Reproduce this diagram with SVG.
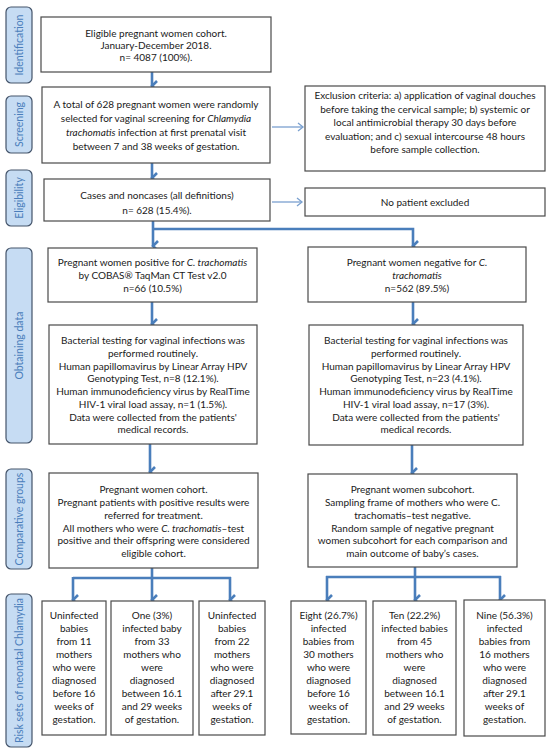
<svg xmlns="http://www.w3.org/2000/svg" width="550" height="754" viewBox="0 0 550 754">
<style>
text{font-family:Lato,"Liberation Sans",sans-serif;font-size:10px;fill:#1a1a1a;text-anchor:middle}
.box{fill:#fff;stroke:#4a4a4a;stroke-width:1.2}
.lab{fill:#c6dcf3;stroke:#44546a;stroke-width:1.2}
.lt{fill:#4a7ebb;font-size:10.5px}
.thick{fill:none;stroke:#4a7ebb;stroke-width:2.6}
.thin{fill:none;stroke:#7aa0cf;stroke-width:1.3}
</style>
<defs>
<marker id="ah" viewBox="0 0 12 10" refX="6" refY="8" markerWidth="12" markerHeight="10" markerUnits="userSpaceOnUse" orient="auto-start-reverse">
<path d="M1,3 L6,8 L11,3" fill="none" stroke="#4a7ebb" stroke-width="2.6"/>
</marker>
<marker id="at" viewBox="0 0 10 10" refX="8" refY="5" markerWidth="10" markerHeight="10" markerUnits="userSpaceOnUse" orient="auto">
<path d="M3,1 L8,5 L3,9" fill="none" stroke="#7aa0cf" stroke-width="1.3"/>
</marker>
</defs>

<g id="labels">
<g id="lab-identification"><rect class="lab" x="6" y="7" width="26" height="76" rx="5"/><text class="lt" transform="translate(23,45) rotate(-90)">Identification</text></g>
<g id="lab-screening"><rect class="lab" x="6" y="96" width="26" height="57" rx="5"/><text class="lt" transform="translate(23,124.5) rotate(-90)">Screening</text></g>
<g id="lab-eligibility"><rect class="lab" x="6" y="170" width="26" height="56" rx="5"/><text class="lt" transform="translate(23,198) rotate(-90)">Eligibility</text></g>
<g id="lab-obtaining"><rect class="lab" x="6" y="248" width="26" height="195" rx="5"/><text class="lt" transform="translate(23,345.5) rotate(-90)">Obtaining data</text></g>
<g id="lab-comparative"><rect class="lab" x="6" y="469" width="26" height="100" rx="5"/><text class="lt" transform="translate(23,519) rotate(-90)">Comparative groups</text></g>
<g id="lab-risk"><rect class="lab" x="6" y="594" width="26" height="153" rx="5"/><text class="lt" transform="translate(23,670.5) rotate(-90)">Risk sets of neonatal Chlamydia</text></g>
</g>

<g id="connectors">
<path class="thick" d="M152,72 V86" marker-end="url(#ah)"/>
<path class="thick" d="M152,163 V178" marker-end="url(#ah)"/>
<path class="thick" d="M153,221 V246" marker-end="url(#ah)"/>
<path class="thick" d="M153,229 H413 V246" marker-end="url(#ah)"/>
<path class="thick" d="M152,302 V324" marker-end="url(#ah)"/>
<path class="thick" d="M413,302 V324" marker-end="url(#ah)"/>
<path class="thick" d="M150,444 V472" marker-end="url(#ah)"/>
<path class="thick" d="M412,445 V473" marker-end="url(#ah)"/>
<path class="thick" d="M152,568 V578"/>
<path class="thick" d="M73,578 H231"/>
<path class="thick" d="M73,577 V600" marker-end="url(#ah)"/>
<path class="thick" d="M152,577 V600" marker-end="url(#ah)"/>
<path class="thick" d="M230,577 V600" marker-end="url(#ah)"/>
<path class="thick" d="M415,567 V577"/>
<path class="thick" d="M326,577 H501"/>
<path class="thick" d="M327,576 V600" marker-end="url(#ah)"/>
<path class="thick" d="M415,576 V600" marker-end="url(#ah)"/>
<path class="thick" d="M500,576 V600" marker-end="url(#ah)"/>
<path class="thin" d="M272,127 H303" marker-end="url(#at)"/>
<path class="thin" d="M272,202 H302" marker-end="url(#at)"/>
</g>

<g id="n-identification"><rect class="box" x="41" y="17" width="230" height="55"/>
<text x="156" y="37">Eligible pregnant women cohort.</text>
<text x="156" y="49">January-December 2018.</text>
<text x="156" y="61">n= 4087 (100%).</text></g>

<g id="n-screening"><rect class="box" x="42" y="87" width="228" height="76"/>
<text x="156" y="108">A total of 628 pregnant women were randomly</text>
<text x="156" y="122">selected for vaginal screening for <tspan font-style="italic">Chlamydia</tspan></text>
<text x="156" y="136"><tspan font-style="italic">trachomatis</tspan> infection at first prenatal visit</text>
<text x="156" y="150">between 7 and 38 weeks of gestation.</text></g>

<g id="n-exclusion"><rect class="box" x="305" y="86" width="240" height="85"/>
<text x="425" y="99">Exclusion criteria: a) application of vaginal douches</text>
<text x="425" y="112.5">before taking the cervical sample; b) systemic or</text>
<text x="425" y="126">local antimicrobial therapy 30 days before</text>
<text x="425" y="139.5">evaluation; and c) sexual intercourse 48 hours</text>
<text x="425" y="153">before sample collection.</text></g>

<g id="n-eligibility"><rect class="box" x="44" y="179" width="226" height="42"/>
<text x="157" y="199">Cases and noncases (all definitions)</text>
<text x="157" y="214">n= 628 (15.4%).</text></g>

<g id="n-noexcluded"><rect class="box" x="305" y="188" width="240" height="28"/>
<text x="425" y="206">No patient excluded</text></g>

<g id="n-positive"><rect class="box" x="48" y="248" width="209" height="54"/>
<text x="152.5" y="266">Pregnant women positive for <tspan font-style="italic">C. trachomatis</tspan></text>
<text x="152.5" y="279">by COBAS® TaqMan CT Test v2.0</text>
<text x="152.5" y="292">n=66 (10.5%)</text></g>

<g id="n-negative"><rect class="box" x="308" y="247" width="218" height="55"/>
<text x="417" y="266">Pregnant women negative for <tspan font-style="italic">C.</tspan></text>
<text x="417" y="279" font-style="italic">trachomatis</text>
<text x="417" y="292">n=562 (89.5%)</text></g>

<g id="n-data-pos"><rect class="box" x="49" y="325" width="208" height="119"/>
<text x="153" y="344">Bacterial testing for vaginal infections was</text>
<text x="153" y="356.7">performed routinely.</text>
<text x="153" y="369.5">Human papillomavirus by Linear Array HPV</text>
<text x="153" y="382.3">Genotyping Test, n=8 (12.1%).</text>
<text x="153" y="395">Human immunodeficiency virus by RealTime</text>
<text x="153" y="407.5">HIV-1 viral load assay, n=1 (1.5%).</text>
<text x="153" y="420.5">Data were collected from the patients'</text>
<text x="153" y="433.3">medical records.</text></g>

<g id="n-data-neg"><rect class="box" x="309" y="325" width="214" height="120"/>
<text x="416" y="344">Bacterial testing for vaginal infections was</text>
<text x="416" y="356.7">performed routinely.</text>
<text x="416" y="369.5">Human papillomavirus by Linear Array HPV</text>
<text x="416" y="382.3">Genotyping Test, n=23 (4.1%).</text>
<text x="416" y="395">Human immunodeficiency virus by RealTime</text>
<text x="416" y="407.5">HIV-1 viral load assay, n=17 (3%).</text>
<text x="416" y="420.5">Data were collected from the patients'</text>
<text x="416" y="433.3">medical records.</text></g>

<g id="n-cohort"><rect class="box" x="49" y="473" width="209" height="95"/>
<text x="153.5" y="493">Pregnant women cohort.</text>
<text x="153.5" y="506">Pregnant patients with positive results were</text>
<text x="153.5" y="518.5">referred for treatment.</text>
<text x="153.5" y="531.5">All mothers who were <tspan font-style="italic">C. trachomatis</tspan>–test</text>
<text x="153.5" y="544">positive and their offspring were considered</text>
<text x="153.5" y="556.7">eligible cohort.</text></g>

<g id="n-subcohort"><rect class="box" x="308" y="474" width="209" height="93"/>
<text x="412.5" y="493">Pregnant women subcohort.</text>
<text x="412.5" y="506">Sampling frame of mothers who were C.</text>
<text x="412.5" y="518.5">trachomatis–test negative.</text>
<text x="412.5" y="531.5">Random sample of negative pregnant</text>
<text x="412.5" y="544">women subcohort for each comparison and</text>
<text x="412.5" y="556.7">main outcome of baby’s cases.</text></g>

<g id="n-risk1"><rect class="box" x="42" y="601" width="64" height="134"/>
<text x="74" y="619">Uninfected</text><text x="74" y="632">babies</text><text x="74" y="645">from 11</text><text x="74" y="658">mothers</text><text x="74" y="671">who were</text><text x="74" y="684">diagnosed</text><text x="74" y="697">before 16</text><text x="74" y="710">weeks of</text><text x="74" y="723">gestation.</text></g>

<g id="n-risk2"><rect class="box" x="111" y="601" width="82" height="134"/>
<text x="152" y="619">One (3%)</text><text x="152" y="632">infected baby</text><text x="152" y="645">from 33</text><text x="152" y="658">mothers who</text><text x="152" y="671">were</text><text x="152" y="684">diagnosed</text><text x="152" y="697">between 16.1</text><text x="152" y="710">and 29 weeks</text><text x="152" y="723">of gestation.</text></g>

<g id="n-risk3"><rect class="box" x="199" y="601" width="66" height="134"/>
<text x="232" y="619">Uninfected</text><text x="232" y="632">babies</text><text x="232" y="645">from 22</text><text x="232" y="658">mothers</text><text x="232" y="671">who were</text><text x="232" y="684">diagnosed</text><text x="232" y="697">after 29.1</text><text x="232" y="710">weeks of</text><text x="232" y="723">gestation.</text></g>

<g id="n-risk4"><rect class="box" x="291" y="601" width="75" height="133"/>
<text x="328.5" y="619">Eight (26.7%)</text><text x="328.5" y="632">infected</text><text x="328.5" y="645">babies from</text><text x="328.5" y="658">30 mothers</text><text x="328.5" y="671">who were</text><text x="328.5" y="684">diagnosed</text><text x="328.5" y="697">before 16</text><text x="328.5" y="710">weeks of</text><text x="328.5" y="723">gestation.</text></g>

<g id="n-risk5"><rect class="box" x="373" y="601" width="83" height="134"/>
<text x="414.5" y="619">Ten (22.2%)</text><text x="414.5" y="632">infected babies</text><text x="414.5" y="645">from 45</text><text x="414.5" y="658">mothers who</text><text x="414.5" y="671">were</text><text x="414.5" y="684">diagnosed</text><text x="414.5" y="697">between 16.1</text><text x="414.5" y="710">and 29 weeks</text><text x="414.5" y="723">of gestation.</text></g>

<g id="n-risk6"><rect class="box" x="464" y="600" width="81" height="136"/>
<text x="504.5" y="619">Nine (56.3%)</text><text x="504.5" y="632">infected</text><text x="504.5" y="645">babies from</text><text x="504.5" y="658">16 mothers</text><text x="504.5" y="671">who were</text><text x="504.5" y="684">diagnosed</text><text x="504.5" y="697">after 29.1</text><text x="504.5" y="710">weeks of</text><text x="504.5" y="723">gestation.</text></g>
</svg>
